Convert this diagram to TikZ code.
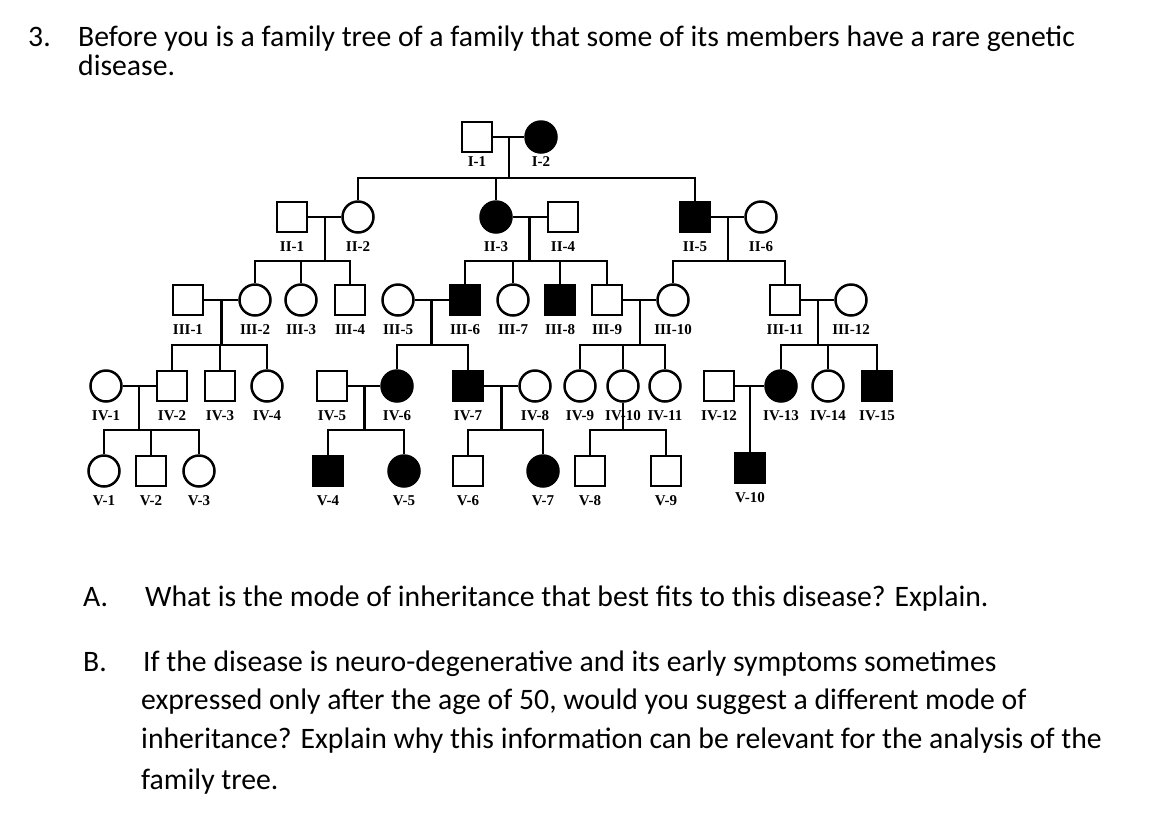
\documentclass[tikz,border=0pt]{standalone}
\usepackage{fontspec}
\setmainfont{Carlito}
\newfontfamily\pedfont{Liberation Serif}
\usetikzlibrary{calc}

\tikzset{
  male/.style={draw, rectangle, minimum size=30pt, inner sep=0pt, line width=2.5pt},
  female/.style={draw, circle, minimum size=31pt, inner sep=0pt, line width=2.5pt},
  ill/.style={fill=black},
  tag/.style={font=\pedfont\bfseries\fontsize{15}{15}\selectfont, inner sep=0pt},
  every label/.style={tag},
  tagged/.style={label={[yshift=-30pt]center:#1}},
  pedline/.style={line width=2.5pt},
  txt/.style={anchor=base west, inner sep=0pt, font=\fontsize{29.7}{35}\selectfont}
}

\begin{document}
\begin{tikzpicture}[x=1pt,y=-1pt]
\useasboundingbox (0,0) rectangle (1161,815);
			% Question text
			\node[txt] (q3) at (28,46) {3.};
			\node[txt] (qtitle1) at (78,46) {Before you is a family tree of a family that some of its members have a rare genetic};
			\node[txt] (qtitle2) at (78,75) {disease.};
			\node[txt] (qA) at (83,606) {A.};
			\node[txt] (qAtext) at (145,606) {What is the mode of inheritance that best fits to this disease? Explain.};
			\node[txt] (qB) at (83,671) {B.};
			\node[txt] (qBtext1) at (143,671) {If the disease is neuro-degenerative and its early symptoms sometimes};
			\node[txt] (qBtext2) at (141,709) {expressed only after the age of 50, would you suggest a different mode of};
			\node[txt] (qBtext3) at (141,748) {inheritance? Explain why this information can be relevant for the analysis of the};
			\node[txt] (qBtext4) at (141,789) {family tree.};
			% Generation I
			\node[male,label={[yshift=-25pt]center:I-1}] (I1) at (477,137) {};
			\node[female,ill,label={[yshift=-25pt]center:I-2}] (I2) at (541,137) {};
			% Generation II
			\node[male,tagged=II-1] (II1) at (292,217) {};
			\node[female,tagged=II-2] (II2) at (358,217) {};
			\node[female,ill,tagged=II-3] (II3) at (496,217) {};
			\node[male,tagged=II-4] (II4) at (563,217) {};
			\node[male,ill,tagged=II-5] (II5) at (695,217) {};
			\node[female,tagged=II-6] (II6) at (761,217) {};
			% Generation III
			\node[male,tagged=III-1] (III1) at (188,300) {};
			\node[female,tagged=III-2] (III2) at (255,300) {};
			\node[female,tagged=III-3] (III3) at (301,300) {};
			\node[male,tagged=III-4] (III4) at (350,300) {};
			\node[female,tagged=III-5] (III5) at (398,300) {};
			\node[male,ill,tagged=III-6] (III6) at (465,300) {};
			\node[female,tagged=III-7] (III7) at (513,300) {};
			\node[male,ill,tagged=III-8] (III8) at (560,300) {};
			\node[male,tagged=III-9] (III9) at (607,300) {};
			\node[female,tagged=III-10] (III10) at (673,300) {};
			\node[male,tagged=III-11] (III11) at (785,300) {};
			\node[female,tagged=III-12] (III12) at (851,300) {};
			% Generation IV
			\node[female,tagged=IV-1] (IV1) at (106,386) {};
			\node[male,tagged=IV-2] (IV2) at (172,386) {};
			\node[male,tagged=IV-3] (IV3) at (220,386) {};
			\node[female,tagged=IV-4] (IV4) at (267,386) {};
			\node[male,tagged=IV-5] (IV5) at (332,386) {};
			\node[female,ill,tagged=IV-6] (IV6) at (397,386) {};
			\node[male,ill,tagged=IV-7] (IV7) at (468,386) {};
			\node[female,tagged=IV-8] (IV8) at (535,386) {};
			\node[female,tagged=IV-9] (IV9) at (580,386) {};
			\node[female,tagged=IV-10] (IV10) at (623,386) {};
			\node[female,tagged=IV-11] (IV11) at (665,386) {};
			\node[male,tagged=IV-12] (IV12) at (719,386) {};
			\node[female,ill,tagged=IV-13] (IV13) at (781,386) {};
			\node[female,tagged=IV-14] (IV14) at (828,386) {};
			\node[male,ill,tagged=IV-15] (IV15) at (877,386) {};
			% Generation V
			\node[female,tagged=V-1] (V1) at (104,471) {};
			\node[male,tagged=V-2] (V2) at (151,471) {};
			\node[female,tagged=V-3] (V3) at (199,471) {};
			\node[male,ill,tagged=V-4] (V4) at (328,471) {};
			\node[female,ill,tagged=V-5] (V5) at (404,471) {};
			\node[male,tagged=V-6] (V6) at (468,471) {};
			\node[female,ill,tagged=V-7] (V7) at (543,471) {};
			\node[male,tagged=V-8] (V8) at (590,471) {};
			\node[male,tagged=V-9] (V9) at (666,471) {};
			\node[male,ill,tagged=V-10] (V10) at (750,468) {};
			% Couples
			\coordinate (mI) at ($(I1)!.5!(I2)$);
			\coordinate (mII1) at ($(II1)!.5!(II2)$);
			\coordinate (mII3) at ($(II3)!.5!(II4)$);
			\coordinate (mII5) at ($(II5)!.5!(II6)$);
			\coordinate (mIII1) at ($(III1)!.5!(III2)$);
			\coordinate (mIII5) at ($(III5)!.5!(III6)$);
			\coordinate (mIII9) at ($(III9)!.5!(III10)$);
			\coordinate (mIII11) at ($(III11)!.5!(III12)$);
			\coordinate (mIV1) at ($(IV1)!.5!(IV2)$);
			\coordinate (mIV5) at ($(IV5)!.5!(IV6)$);
			\coordinate (mIV7) at ($(IV7)!.5!(IV8)$);
			\coordinate (mIV12) at ($(IV12)!.5!(IV13)$);
			% Sibship lines
			\coordinate (sI) at ($(mI)+(0,41)$);
			\coordinate (sII1) at ($(mII1)+(0,44)$);
			\coordinate (sII3) at ($(mII3)+(0,44)$);
			\coordinate (sII5) at ($(mII5)+(0,44)$);
			\coordinate (sIII1) at ($(mIII1)+(0,45)$);
			\coordinate (sIII5) at ($(mIII5)+(0,45)$);
			\coordinate (sIII9) at ($(mIII9)+(0,45)$);
			\coordinate (sIII11) at ($(mIII11)+(0,45)$);
			\coordinate (sIV1) at ($(mIV1)+(0,44)$);
			\coordinate (sIV5) at ($(mIV5)+(0,44)$);
			\coordinate (sIV7) at ($(mIV7)+(0,44)$);
			\coordinate (sIV10) at ($(IV10)+(0,44)$);
			% Edges
			\draw[pedline] (I1) -- (I2);
			\draw[pedline] (II1) -- (II2);
			\draw[pedline] (II3) -- (II4);
			\draw[pedline] (II5) -- (II6);
			\draw[pedline] (III1) -- (III2);
			\draw[pedline] (III5) -- (III6);
			\draw[pedline] (III9) -- (III10);
			\draw[pedline] (III11) -- (III12);
			\draw[pedline] (IV1) -- (IV2);
			\draw[pedline] (IV5) -- (IV6);
			\draw[pedline] (IV7) -- (IV8);
			\draw[pedline] (IV12) -- (IV13);
			\draw[pedline] (mI) -- (sI);
			\draw[pedline] (mII1) -- (sII1);
			\draw[pedline] (mII3) -- (sII3);
			\draw[pedline] (mII5) -- (sII5);
			\draw[pedline] (mIII1) -- (sIII1);
			\draw[pedline] (mIII5) -- (sIII5);
			\draw[pedline] (mIII9) -- (sIII9);
			\draw[pedline] (mIII11) -- (sIII11);
			\draw[pedline] (mIV1) -- (sIV1);
			\draw[pedline] (mIV5) -- (sIV5);
			\draw[pedline] (mIV7) -- (sIV7);
			\draw[pedline] (IV10) -- (sIV10);
			\draw[pedline] (mIV12) -- (V10);
			\draw[pedline] (II2) |- (sI) -| (II5);
			\draw[pedline] (sI) -| (II3);
			\draw[pedline] (III2) |- (sII1) -| (III4);
			\draw[pedline] (sII1) -| (III3);
			\draw[pedline] (III6) |- (sII3) -| (III9);
			\draw[pedline] (sII3) -| (III7);
			\draw[pedline] (sII3) -| (III8);
			\draw[pedline] (III10) |- (sII5) -| (III11);
			\draw[pedline] (IV2) |- (sIII1) -| (IV4);
			\draw[pedline] (sIII1) -| (IV3);
			\draw[pedline] (IV6) |- (sIII5) -| (IV7);
			\draw[pedline] (IV9) |- (sIII9) -| (IV11);
			\draw[pedline] (sIII9) -| (IV10);
			\draw[pedline] (IV13) |- (sIII11) -| (IV15);
			\draw[pedline] (sIII11) -| (IV14);
			\draw[pedline] (V1) |- (sIV1) -| (V3);
			\draw[pedline] (sIV1) -| (V2);
			\draw[pedline] (V4) |- (sIV5) -| (V5);
			\draw[pedline] (V6) |- (sIV7) -| (V7);
			\draw[pedline] (V8) |- (sIV10) -| (V9);
\end{tikzpicture}
\end{document}
